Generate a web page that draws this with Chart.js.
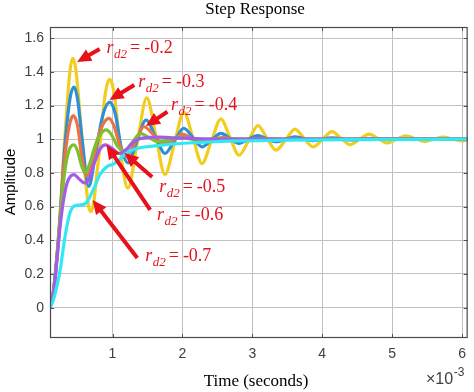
<!DOCTYPE html>
<html>
<head>
<meta charset="utf-8">
<script src="https://cdn.jsdelivr.net/npm/chart.js@4.4.0/dist/chart.umd.min.js"></script>
<style>
html, body { margin: 0; padding: 0; background: #fff; }
</style>
</head>
<body>
<canvas id="myCanvas" width="474" height="392"></canvas>
<script>
'use strict';

// time in ms (axis shows x10^-3 s)
const xTicks = [1, 2, 3, 4, 5, 6];
const yTicks = [0, 0.2, 0.4, 0.6, 0.8, 1, 1.2, 1.4, 1.6];
const xMin = 0.106, xMax = 6.08;
const yMin = -0.18, yMax = 1.666;

const labels = ['-0.2', '-0.3', '-0.4', '-0.5', '-0.6', '-0.7'];

// rd2 = -0.2
const tYellow = [0.106, 0.15, 0.2, 0.26, 0.3, 0.35, 0.39, 0.43, 0.47, 0.51, 0.56, 0.61, 0.65, 0.69, 0.73, 0.77, 0.83, 0.88, 0.92, 0.96, 1.0, 1.04, 1.09, 1.15, 1.22, 1.355, 1.49, 1.62, 1.75, 1.885, 2.02, 2.15, 2.28, 2.415, 2.55, 2.68, 2.81, 2.945, 3.08, 3.21, 3.34, 3.475, 3.61, 3.74, 3.87, 4.005, 4.14, 4.27, 4.4, 4.535, 4.67, 4.8, 4.93, 5.065, 5.2, 5.33, 5.46, 5.595, 5.73, 5.86, 5.99, 6.08];
const vYellow = [0, 0.08, 0.28, 0.62, 0.9, 1.2, 1.4, 1.48, 1.43, 1.27, 1.02, 0.78, 0.62, 0.57, 0.62, 0.77, 1.0, 1.22, 1.32, 1.355, 1.32, 1.22, 1.03, 0.82, 0.71, 0.98, 1.245, 1.02, 0.79, 0.975, 1.16, 1.01, 0.855, 0.99, 1.12, 1.01, 0.905, 0.99, 1.08, 1.005, 0.935, 0.995, 1.06, 1.005, 0.955, 1.0, 1.045, 1.005, 0.968, 1.0, 1.03, 1.004, 0.978, 1.0, 1.02, 1.003, 0.986, 1.0, 1.012, 1.001, 0.99, 0.995];

// rd2 = -0.3
const tBlue = [0.106, 0.15, 0.2, 0.26, 0.3, 0.35, 0.4, 0.45, 0.5, 0.56, 0.66, 0.76, 0.86, 0.96, 1.04, 1.12, 1.22, 1.35, 1.48, 1.62, 1.75, 1.885, 2.02, 2.15, 2.28, 2.415, 2.55, 2.68, 2.81, 2.945, 3.08, 3.21, 3.34, 3.61, 3.87, 4.14, 4.4, 4.67, 5.0, 6.08];
const vBlue = [0, 0.08, 0.28, 0.6, 0.86, 1.1, 1.26, 1.31, 1.24, 1.02, 0.72, 0.92, 1.14, 1.22, 1.15, 0.96, 0.86, 0.99, 1.114, 1.01, 0.915, 0.99, 1.065, 1.01, 0.955, 0.995, 1.035, 1.005, 0.975, 1.0, 1.022, 1.002, 0.985, 1.014, 0.992, 1.008, 0.996, 1.003, 1.0, 1.0];

// rd2 = -0.4
const tOrange = [0.106, 0.15, 0.2, 0.26, 0.3, 0.35, 0.4, 0.44, 0.5, 0.56, 0.63, 0.7, 0.8, 0.88, 0.95, 1.02, 1.1, 1.2, 1.3, 1.45, 1.58, 1.72, 1.85, 2.0, 2.15, 2.3, 2.45, 2.58, 2.8, 3.1, 3.5, 6.08];
const vOrange = [0, 0.08, 0.27, 0.58, 0.82, 1.0, 1.11, 1.14, 1.08, 0.9, 0.78, 0.84, 1.02, 1.1, 1.124, 1.08, 0.97, 0.9, 0.96, 1.074, 1.03, 0.975, 0.99, 1.03, 1.0, 0.985, 1.0, 1.01, 0.997, 1.003, 1.0, 1.0];

// rd2 = -0.5
const tGreen = [0.106, 0.15, 0.2, 0.26, 0.3, 0.35, 0.4, 0.45, 0.5, 0.56, 0.61, 0.67, 0.75, 0.83, 0.91, 0.98, 1.07, 1.17, 1.28, 1.4, 1.52, 1.65, 1.8, 1.95, 2.2, 2.6, 3.0, 6.08];
const vGreen = [0, 0.08, 0.27, 0.56, 0.75, 0.89, 0.955, 0.966, 0.93, 0.84, 0.8, 0.85, 0.96, 1.03, 1.055, 1.03, 0.96, 0.93, 0.98, 1.035, 1.01, 0.985, 0.995, 1.012, 0.997, 1.003, 1.0, 1.0];

// rd2 = -0.6
const tPurple = [0.106, 0.15, 0.2, 0.25, 0.3, 0.35, 0.4, 0.45, 0.52, 0.6, 0.66, 0.74, 0.82, 0.9, 0.98, 1.1, 1.2, 1.32, 1.45, 1.65, 1.9, 2.3, 3.0, 6.08];
const vPurple = [0, 0.07, 0.26, 0.48, 0.64, 0.74, 0.78, 0.79, 0.765, 0.74, 0.76, 0.86, 0.94, 0.966, 0.95, 0.915, 0.94, 0.99, 1.008, 1.012, 1.008, 1.002, 1.0, 1.0];

// rd2 = -0.7
const tCyan = [0.106, 0.15, 0.18, 0.25, 0.32, 0.39, 0.46, 0.55, 0.63, 0.745, 0.82, 0.93, 1.0, 1.08, 1.15, 1.25, 1.4, 1.6, 1.9, 2.3, 2.8, 3.5, 4.5, 6.08];
const vCyan = [0, 0.04, 0.085, 0.22, 0.42, 0.56, 0.605, 0.61, 0.625, 0.72, 0.79, 0.84, 0.85, 0.87, 0.9, 0.93, 0.95, 0.96, 0.972, 0.982, 0.99, 0.995, 0.998, 1.0];

const seriesT = [tYellow, tBlue, tOrange, tGreen, tPurple, tCyan];
const seriesV = [vYellow, vBlue, vOrange, vGreen, vPurple, vCyan];
const colors = ['#F2CC1E', '#2C8FD9', '#EA7246', '#7DC02E', '#A35BEA', '#33E8F4'];

// annotation places in data units: text baseline-left, arrow tail, arrow tip
const noteText = [[0.915, 1.509], [1.369, 1.31], [1.837, 1.173], [1.667, 0.684], [1.638, 0.52], [1.468, 0.277]];
const noteTail = [[0.816, 1.535], [1.312, 1.322], [1.785, 1.163], [1.567, 0.776], [1.539, 0.58], [1.355, 0.295]];
const noteTip = [[0.494, 1.458], [0.957, 1.233], [1.478, 1.078], [1.17, 0.918], [0.915, 0.966], [0.716, 0.639]];

const red = '#E8101A';
const serif = '"Liberation Serif", "Times New Roman", serif';
const sans = '"Liberation Sans", Arial, sans-serif';

let datasets = [];
for (let i = 0; i < seriesT.length; i++) {
	datasets.push({
		label: 'rd2 = ' + labels[i],
		data: seriesT[i].map(function(t, k) { return {x: t, y: seriesV[i][k]}; }),
		borderColor: colors[i],
		borderWidth: 3.2,
		pointRadius: 0,
		fill: false,
		cubicInterpolationMode: 'monotone',
		order: seriesT.length - i
	});
}

function drawArrow(ctx, x1, y1, x2, y2) {
	let ang = Math.atan2(y2 - y1, x2 - x1);
	let len = 14, half = 6.5;
	let bx = x2 - len * Math.cos(ang), by = y2 - len * Math.sin(ang);
	ctx.strokeStyle = red;
	ctx.fillStyle = red;
	ctx.lineWidth = 4;
	ctx.beginPath();
	ctx.moveTo(x1, y1);
	ctx.lineTo(bx + 2 * Math.cos(ang), by + 2 * Math.sin(ang));
	ctx.stroke();
	ctx.beginPath();
	ctx.moveTo(x2, y2);
	ctx.lineTo(bx + half * Math.sin(ang), by - half * Math.cos(ang));
	ctx.lineTo(bx - half * Math.sin(ang), by + half * Math.cos(ang));
	ctx.closePath();
	ctx.fill();
}

function drawNote(ctx, x, y, val) {
	ctx.fillStyle = red;
	ctx.textAlign = 'left';
	ctx.textBaseline = 'alphabetic';
	ctx.font = 'italic 18px ' + serif;
	ctx.fillText('r', x, y);
	x += ctx.measureText('r').width + 0.5;
	ctx.font = 'italic 13px ' + serif;
	ctx.fillText('d2', x, y + 5);
	x += ctx.measureText('d2').width + 3;
	ctx.font = '18px ' + serif;
	ctx.fillText('=', x, y);
	x += ctx.measureText('=').width + 4;
	ctx.fillText(val, x, y);
}

const decor = {
	id: 'decor',
	beforeDatasetsDraw: function(chart) {
		let ctx = chart.ctx, a = chart.chartArea;
		let xs = chart.scales.x, ys = chart.scales.y;
		ctx.save();
		ctx.strokeStyle = '#505050';
		ctx.lineWidth = 1;
		ctx.beginPath();
		for (let v of xTicks) {
			let px = Math.round(xs.getPixelForValue(v)) + 0.5;
			ctx.moveTo(px, a.bottom); ctx.lineTo(px, a.bottom - 4);
			ctx.moveTo(px, a.top); ctx.lineTo(px, a.top + 4);
		}
		for (let v of yTicks) {
			let py = Math.round(ys.getPixelForValue(v)) + 0.5;
			ctx.moveTo(a.left, py); ctx.lineTo(a.left + 4, py);
			ctx.moveTo(a.right, py); ctx.lineTo(a.right - 4, py);
		}
		ctx.stroke();
		ctx.restore();
	},
	afterDraw: function(chart) {
		let ctx = chart.ctx, a = chart.chartArea;
		let xs = chart.scales.x, ys = chart.scales.y;
		ctx.save();
		ctx.strokeStyle = '#4a4a4a';
		ctx.lineWidth = 1.2;
		ctx.strokeRect(a.left + 0.5, a.top + 0.5, a.right - a.left - 1, a.bottom - a.top - 1);

		for (let i = 0; i < labels.length; i++) {
			drawArrow(ctx,
				xs.getPixelForValue(noteTail[i][0]), ys.getPixelForValue(noteTail[i][1]),
				xs.getPixelForValue(noteTip[i][0]), ys.getPixelForValue(noteTip[i][1]));
			drawNote(ctx, xs.getPixelForValue(noteText[i][0]), ys.getPixelForValue(noteText[i][1]), labels[i]);
		}

		ctx.fillStyle = '#000';
		ctx.textAlign = 'center';
		ctx.textBaseline = 'alphabetic';
		ctx.font = '17px ' + serif;
		ctx.fillText('Step Response', 255, 14);
		ctx.fillText('Time (seconds)', 256, 386);

		ctx.save();
		ctx.translate(11, 182);
		ctx.rotate(-Math.PI / 2);
		ctx.textBaseline = 'middle';
		ctx.font = '15px ' + sans;
		ctx.fillText('Amplitude', 0, 0);
		ctx.restore();

		ctx.fillStyle = '#404040';
		ctx.textAlign = 'left';
		ctx.font = '16px ' + sans;
		ctx.fillText('\u00d710', 426, 384);
		let w = ctx.measureText('\u00d710').width;
		ctx.font = '12px ' + sans;
		ctx.fillText('-3', 426 + w + 0.5, 376);
		ctx.restore();
	}
};

let myChart = document.getElementById('myCanvas').getContext('2d');
let stepChart = new Chart(myChart, {
	type: 'line',
	data: { datasets: datasets },
	options: {
		responsive: false,
		animation: false,
		layout: { padding: { top: 27, right: 3, left: 0, bottom: 0 } },
		plugins: {
			legend: { display: false },
			tooltip: { enabled: false },
			title: { display: false }
		},
		scales: {
			x: {
				type: 'linear',
				min: xMin,
				max: xMax,
				afterFit: function(s) { s.height = 54; },
				afterBuildTicks: function(s) { s.ticks = xTicks.map(function(v) { return {value: v}; }); },
				grid: { color: '#c0c0c0', lineWidth: 1, drawTicks: false },
				border: { display: false },
				ticks: {
					padding: 8,
					autoSkip: false,
					maxRotation: 0,
					color: '#404040',
					font: { family: sans, size: 14 },
					callback: function(v) { return String(v); }
				}
			},
			y: {
				type: 'linear',
				min: yMin,
				max: yMax,
				afterFit: function(s) { s.width = 50; },
				afterBuildTicks: function(s) { s.ticks = yTicks.map(function(v) { return {value: v}; }); },
				grid: { color: '#c0c0c0', lineWidth: 1, drawTicks: false },
				border: { display: false },
				ticks: {
					padding: 6,
					autoSkip: false,
					color: '#404040',
					font: { family: sans, size: 14 },
					callback: function(v) { return String(Math.round(v * 10) / 10); }
				}
			}
		}
	},
	plugins: [decor]
});
</script>
</body>
</html>
